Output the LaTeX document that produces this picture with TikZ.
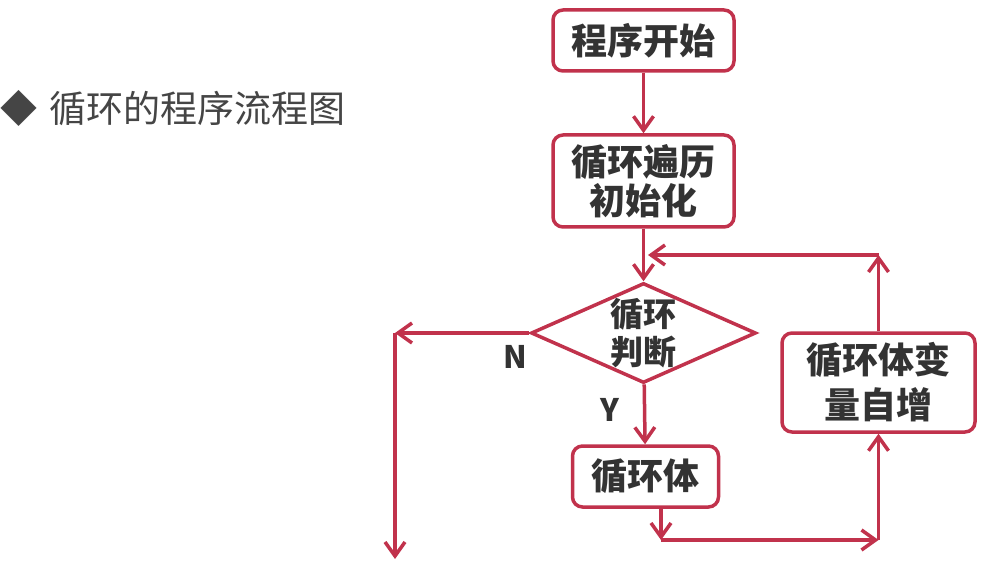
\documentclass[tikz,border=0pt]{standalone}
\usepackage{fontspec}
\setmainfont{Noto Sans CJK SC}
\usetikzlibrary{arrows.meta,shapes.geometric}
\definecolor{ln}{HTML}{C1324C}
\definecolor{ink}{HTML}{333333}
\definecolor{hd}{HTML}{454545}
\tikzset{
  box/.style={draw=ln,line width=3.5pt,rounded corners=10pt,minimum width=181pt,minimum height=61pt,inner sep=0pt,align=center,text=ink,font=\fontsize{36}{41}\selectfont\bfseries},
  cond/.style={diamond,draw=ln,line width=3.5pt,minimum width=225pt,minimum height=100pt,inner sep=0pt},
  ctxt/.style={align=center,text=ink,inner sep=0pt,font=\fontsize{33}{38}\selectfont\bfseries},
  arr/.style={-{Straight Barb[length=14pt,width=20pt]},line width=3.5pt,ln},
  lab/.style={text=ink,inner sep=0pt,font=\fontsize{31}{31}\selectfont\bfseries},
  head/.style={text=hd,inner sep=0pt,font=\fontsize{37}{37}\selectfont}
}
\begin{document}
\begin{tikzpicture}[x=1pt,y=-1pt]
\useasboundingbox (0,0) rectangle (985,561);
\fill[white] (0,0) rectangle (985,561);
% title
\node[head] (dot) at (19,108) {◆};
\node[head,anchor=west] (title) at (49,108) {循环的程序流程图};
% flow
\node[box] (start) at (643.5,40.5) {程序开始};
\node[box,minimum height=92pt,font=\fontsize{36}{39}\selectfont\bfseries] (init) at (643.5,181) {循环遍历\\初始化};
\node[cond,label={[ctxt]center:循环\\判断}] (test) at (643.5,333) {};
\node[box,minimum width=146pt] (body) at (645.5,476.5) {循环体};
\node[box,minimum width=193pt,minimum height=99pt,font=\fontsize{36}{45}\selectfont\bfseries] (incr) at (878.5,382.5) {循环体变\\量自增};
\coordinate (nturn) at (395,333);
\coordinate (nend) at (395,559);
\coordinate (bdown) at (661,540);
\coordinate (rturn) at (878.5,540);
\coordinate (tturn) at (878.5,255);
\coordinate (join) at (648,255);
\draw[arr] (start) -- (init);
\draw[arr] (init) -- (test);
\draw[arr] (test) -- (nturn);
\draw[arr] (nturn) -- (nend);
\draw[arr] (test) -- (body);
\draw[arr] (body.south -| bdown) -- (bdown);
\draw[arr] (bdown) -- (rturn);
\draw[arr] (rturn) -- (incr);
\draw[arr] (incr) -- (tturn);
\draw[arr] (tturn) -- (join);
\node[lab] (yes) at (610,410) {Y};
\node[lab] (no) at (515,357) {N};
\end{tikzpicture}
\end{document}
